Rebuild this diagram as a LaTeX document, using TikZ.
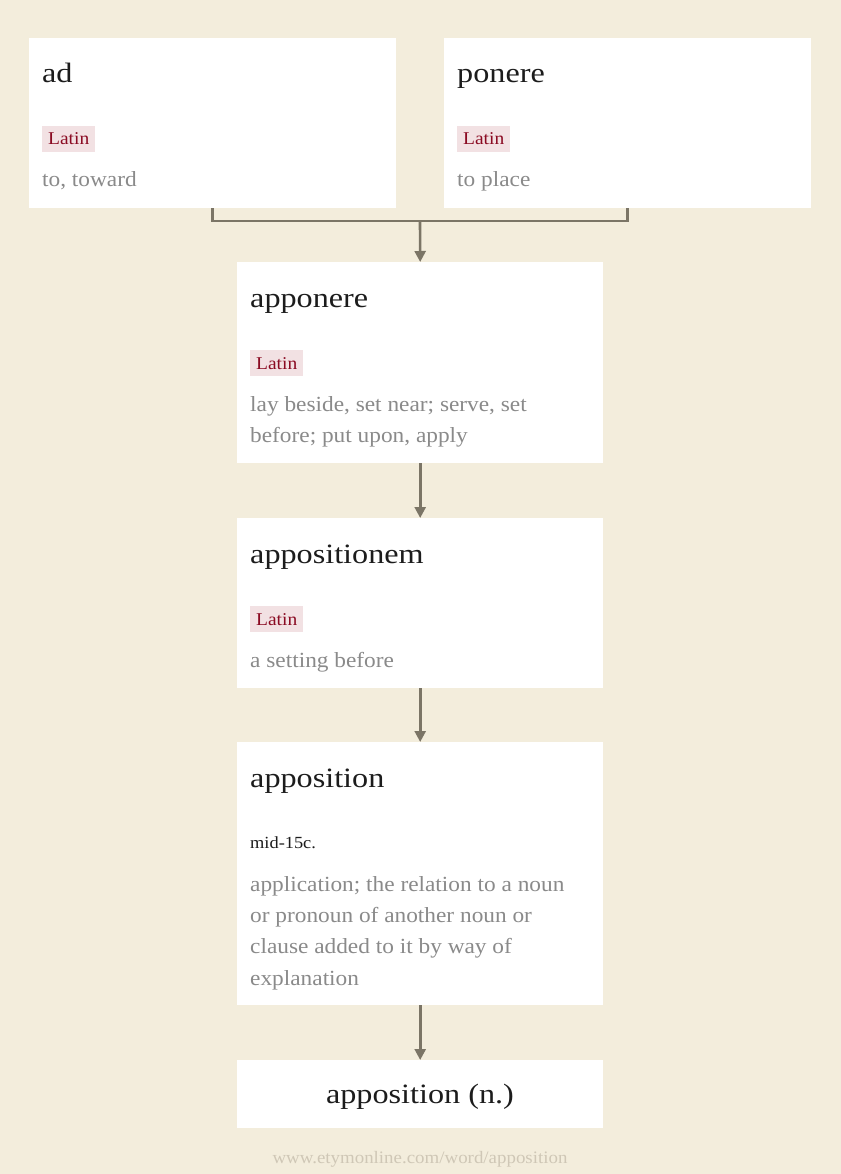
\documentclass[tikz,border=0pt]{standalone}
\usepackage{fontspec}
\setmainfont[FakeStretch=1.08]{Liberation Serif}
\newfontfamily\titlefont[FakeStretch=1.15]{Liberation Serif}
\usetikzlibrary{arrows.meta}
\definecolor{bg}{HTML}{F3EDDC}
\definecolor{ink}{HTML}{1C1C1C}
\definecolor{tagtext}{HTML}{8A0A22}
\definecolor{tagfill}{HTML}{F2E1E3}
\definecolor{gloss}{HTML}{8A8A8A}
\definecolor{conn}{HTML}{7B7566}
\definecolor{url}{HTML}{CFC7B6}
\tikzset{
  card/.style={fill=white, draw=none, inner sep=0pt, anchor=north west},
  titletext/.style={anchor=base west, inner sep=0pt, text=ink, font=\titlefont\fontsize{28}{32}\selectfont},
  tagbox/.style={anchor=base west, fill=tagfill, text=tagtext, inner xsep=6pt, inner ysep=5pt,
     text height=14pt, text depth=2pt, font=\fontsize{18}{22}\selectfont},
  glosstext/.style={anchor=base west, inner sep=0pt, text=gloss, font=\fontsize{21.6}{31}\selectfont},
  datetext/.style={anchor=base west, inner sep=0pt, text=ink, font=\fontsize{17}{20}\selectfont},
  connline/.style={draw=conn, line width=2.6pt},
  arr/.style={-{Triangle[width=11pt,length=11pt]}}
}
\begin{document}
\begin{tikzpicture}[x=1pt,y=-1pt]
\useasboundingbox (0,0) rectangle (840,1174);
\fill[bg] (-10,-10) rectangle (850,1184);

% cards
\node[card, minimum width=367pt, minimum height=170pt] (ad) at (29,38) {};
\node[card, minimum width=367pt, minimum height=170pt] (ponere) at (444,38) {};
\node[card, minimum width=366pt, minimum height=201pt] (apponere) at (237,262) {};
\node[card, minimum width=366pt, minimum height=170pt] (appositionem) at (237,518) {};
\node[card, minimum width=366pt, minimum height=263pt] (apposition) at (237,742) {};
\node[card, minimum width=366pt, minimum height=68pt] (final) at (237,1060) {};

% ad
\node[titletext] (adT) at (42,83) {ad};
\node[tagbox] (adL) at (42,145) {Latin};
\node[glosstext] (adG) at (42,187) {to, toward};
% ponere
\node[titletext] (poT) at (457,83) {ponere};
\node[tagbox] (poL) at (457,145) {Latin};
\node[glosstext] (poG) at (457,187) {to place};
% apponere
\node[titletext] (apT) at (250,307) {apponere};
\node[tagbox] (apL) at (250,369) {Latin};
\node[glosstext] (apG1) at (250,411) {lay beside, set near; serve, set};
\node[glosstext] (apG2) at (250,442) {before; put upon, apply};
% appositionem
\node[titletext] (amT) at (250,563) {appositionem};
\node[tagbox] (amL) at (250,625) {Latin};
\node[glosstext] (amG) at (250,667) {a setting before};
% apposition
\node[titletext] (aT) at (250,787) {apposition};
\node[datetext] (aD) at (250,848) {mid-15c.};
\node[glosstext] (aG1) at (250,891) {application; the relation to a noun};
\node[glosstext] (aG2) at (250,922) {or pronoun of another noun or};
\node[glosstext] (aG3) at (250,953) {clause added to it by way of};
\node[glosstext] (aG4) at (250,985) {explanation};
% final
\node[anchor=base, inner sep=0pt, text=ink, font=\titlefont\fontsize{28}{32}\selectfont] (fT) at (420,1103) {apposition (n.)};
% url
\node[anchor=base, inner sep=0pt, text=url, font=\fontsize{17.5}{20}\selectfont] (url) at (420,1163) {www.etymonline.com/word/apposition};

% connectors
\coordinate (j) at (420,221);
\draw[connline] (ad.south) |- (j) -| (ponere.south);
\draw[connline, arr] (j) -- (apponere.north);
\draw[connline, arr] (apponere.south) -- (appositionem.north);
\draw[connline, arr] (appositionem.south) -- (apposition.north);
\draw[connline, arr] (apposition.south) -- (final.north);
\end{tikzpicture}
\end{document}
